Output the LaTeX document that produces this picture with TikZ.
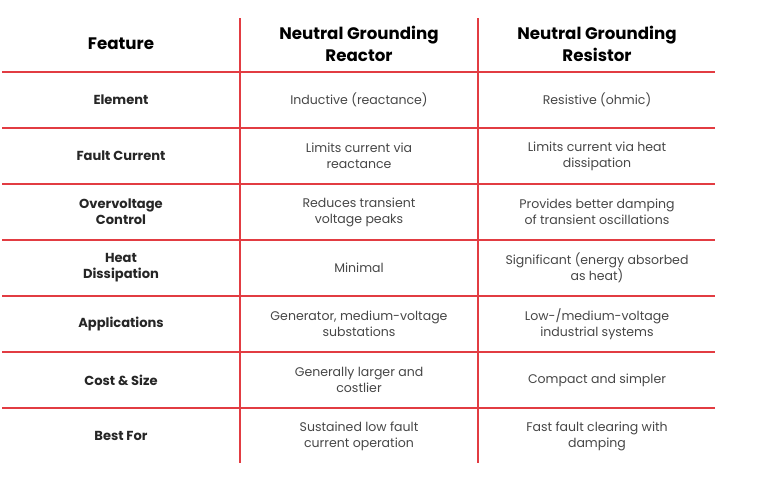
\documentclass[tikz,border=0pt]{standalone}
\usepackage{fontspec}
\setmainfont{Poppins}
\usetikzlibrary{positioning}
\definecolor{gridred}{RGB}{226, 60, 66}
\definecolor{bodygray}{RGB}{70, 70, 70}
\begin{document}
\begin{tikzpicture}[
        x=0.75pt, y=-0.75pt,
        head/.style={align=center, font=\fontsize{12.5}{16.5}\selectfont\bfseries, text=black},
        feat/.style={align=center, font=\fontsize{9.8}{12}\selectfont\bfseries, text=black!85},
        cell/.style={align=center, font=\fontsize{9.4}{12}\selectfont, text=bodygray},
        grid/.style={gridred, line width=1pt}
    ]
        \useasboundingbox (0,0) rectangle (768,493);

        % Grid lines
        \foreach \y in {72,128,184,240,296,352,408}
            \draw[grid] (2,\y) -- (715,\y);
        \draw[grid] (240,18) -- (240,463);
        \draw[grid] (478,18) -- (478,463);

        % Header
        \node[head] (hfeat) at (121,44) {Feature};
        \node[head] (hreac) at (359,44) {Neutral Grounding\\Reactor};
        \node[head] (hres) at (597,44) {Neutral Grounding\\Resistor};

        % Rows
        \foreach \n/\f/\a/\b [count=\i] in {
            elem/{Element}/{Inductive (reactance)}/{Resistive (ohmic)},
            fault/{Fault Current}/{Limits current via\\reactance}/{Limits current via heat\\dissipation},
            over/{Overvoltage\\Control}/{Reduces transient\\voltage peaks}/{Provides better damping\\of transient oscillations},
            heat/{Heat\\Dissipation}/{Minimal}/{Significant (energy absorbed\\as heat)},
            appl/{Applications}/{Generator, medium-voltage\\substations}/{Low-/medium-voltage\\industrial systems},
            cost/{Cost \& Size}/{Generally larger and\\costlier}/{Compact and simpler},
            best/{Best For}/{Sustained low fault\\current operation}/{Fast fault clearing with\\damping}} {
            \node[feat] (\n-f) at (121,44+56*\i) {\f};
            \node[cell] (\n-a) at (359,44+56*\i) {\a};
            \node[cell] (\n-b) at (597,44+56*\i) {\b};
        }
    \end{tikzpicture}
\end{document}
